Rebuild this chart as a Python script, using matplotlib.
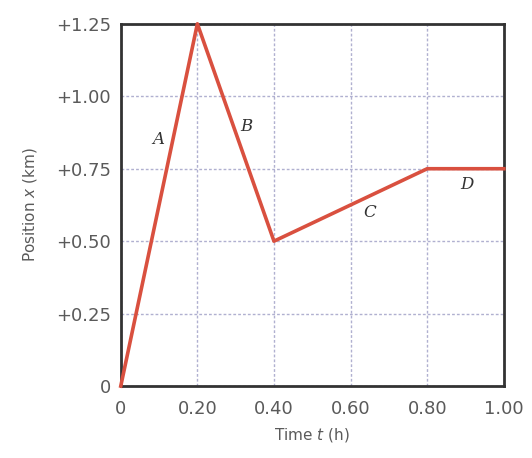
import matplotlib.pyplot as plt

# position vs time data
times = [0.0, 0.20, 0.40, 0.80, 1.00]
positions = [0.0, 1.25, 0.50, 0.75, 0.75]

x_ticks = [0, 0.20, 0.40, 0.60, 0.80, 1.00]
x_tick_labels = ["0", "0.20", "0.40", "0.60", "0.80", "1.00"]
y_ticks = [0, 0.25, 0.50, 0.75, 1.00, 1.25]
y_tick_labels = ["0", "+0.25", "+0.50", "+0.75", "+1.00", "+1.25"]

segment_labels = ["A", "B", "C", "D"]
segment_label_pos = [(0.097, 0.85), (0.329, 0.895), (0.65, 0.60), (0.903, 0.695)]

text_color = "#5a5a5a"

fig = plt.figure(figsize=(5.32, 4.58), dpi=100)
ax = fig.add_axes([0.227, 0.157, 0.72, 0.791])

ax.plot(times, positions, color="#d9503f", lw=2.6, zorder=5, clip_on=False)

for lbl, (tx, ty) in zip(segment_labels, segment_label_pos):
    ax.text(tx, ty, lbl, fontsize=12, family="DejaVu Serif", style="italic",
            color="#333333", ha="center", va="center")

ax.set_xlim(0, 1.0)
ax.set_ylim(0, 1.25)
ax.set_xticks(x_ticks, x_tick_labels)
ax.set_yticks(y_ticks, y_tick_labels)
ax.tick_params(length=0, labelsize=13, labelcolor=text_color)
ax.tick_params(axis="x", pad=10)
ax.tick_params(axis="y", pad=7)

ax.grid(True, color="#b0b0d0", linestyle=(0, (2, 1.5)), lw=1.0)
ax.set_axisbelow(True)

for s in ax.spines.values():
    s.set_color("#333333")
    s.set_linewidth(2)

ax.set_xlabel(r"Time $t$ (h)", fontsize=11, color=text_color, labelpad=6)
ax.set_ylabel(r"Position $x$ (km)", fontsize=11, color=text_color, labelpad=12)

fig.savefig("out.png", dpi=100, facecolor="white")
